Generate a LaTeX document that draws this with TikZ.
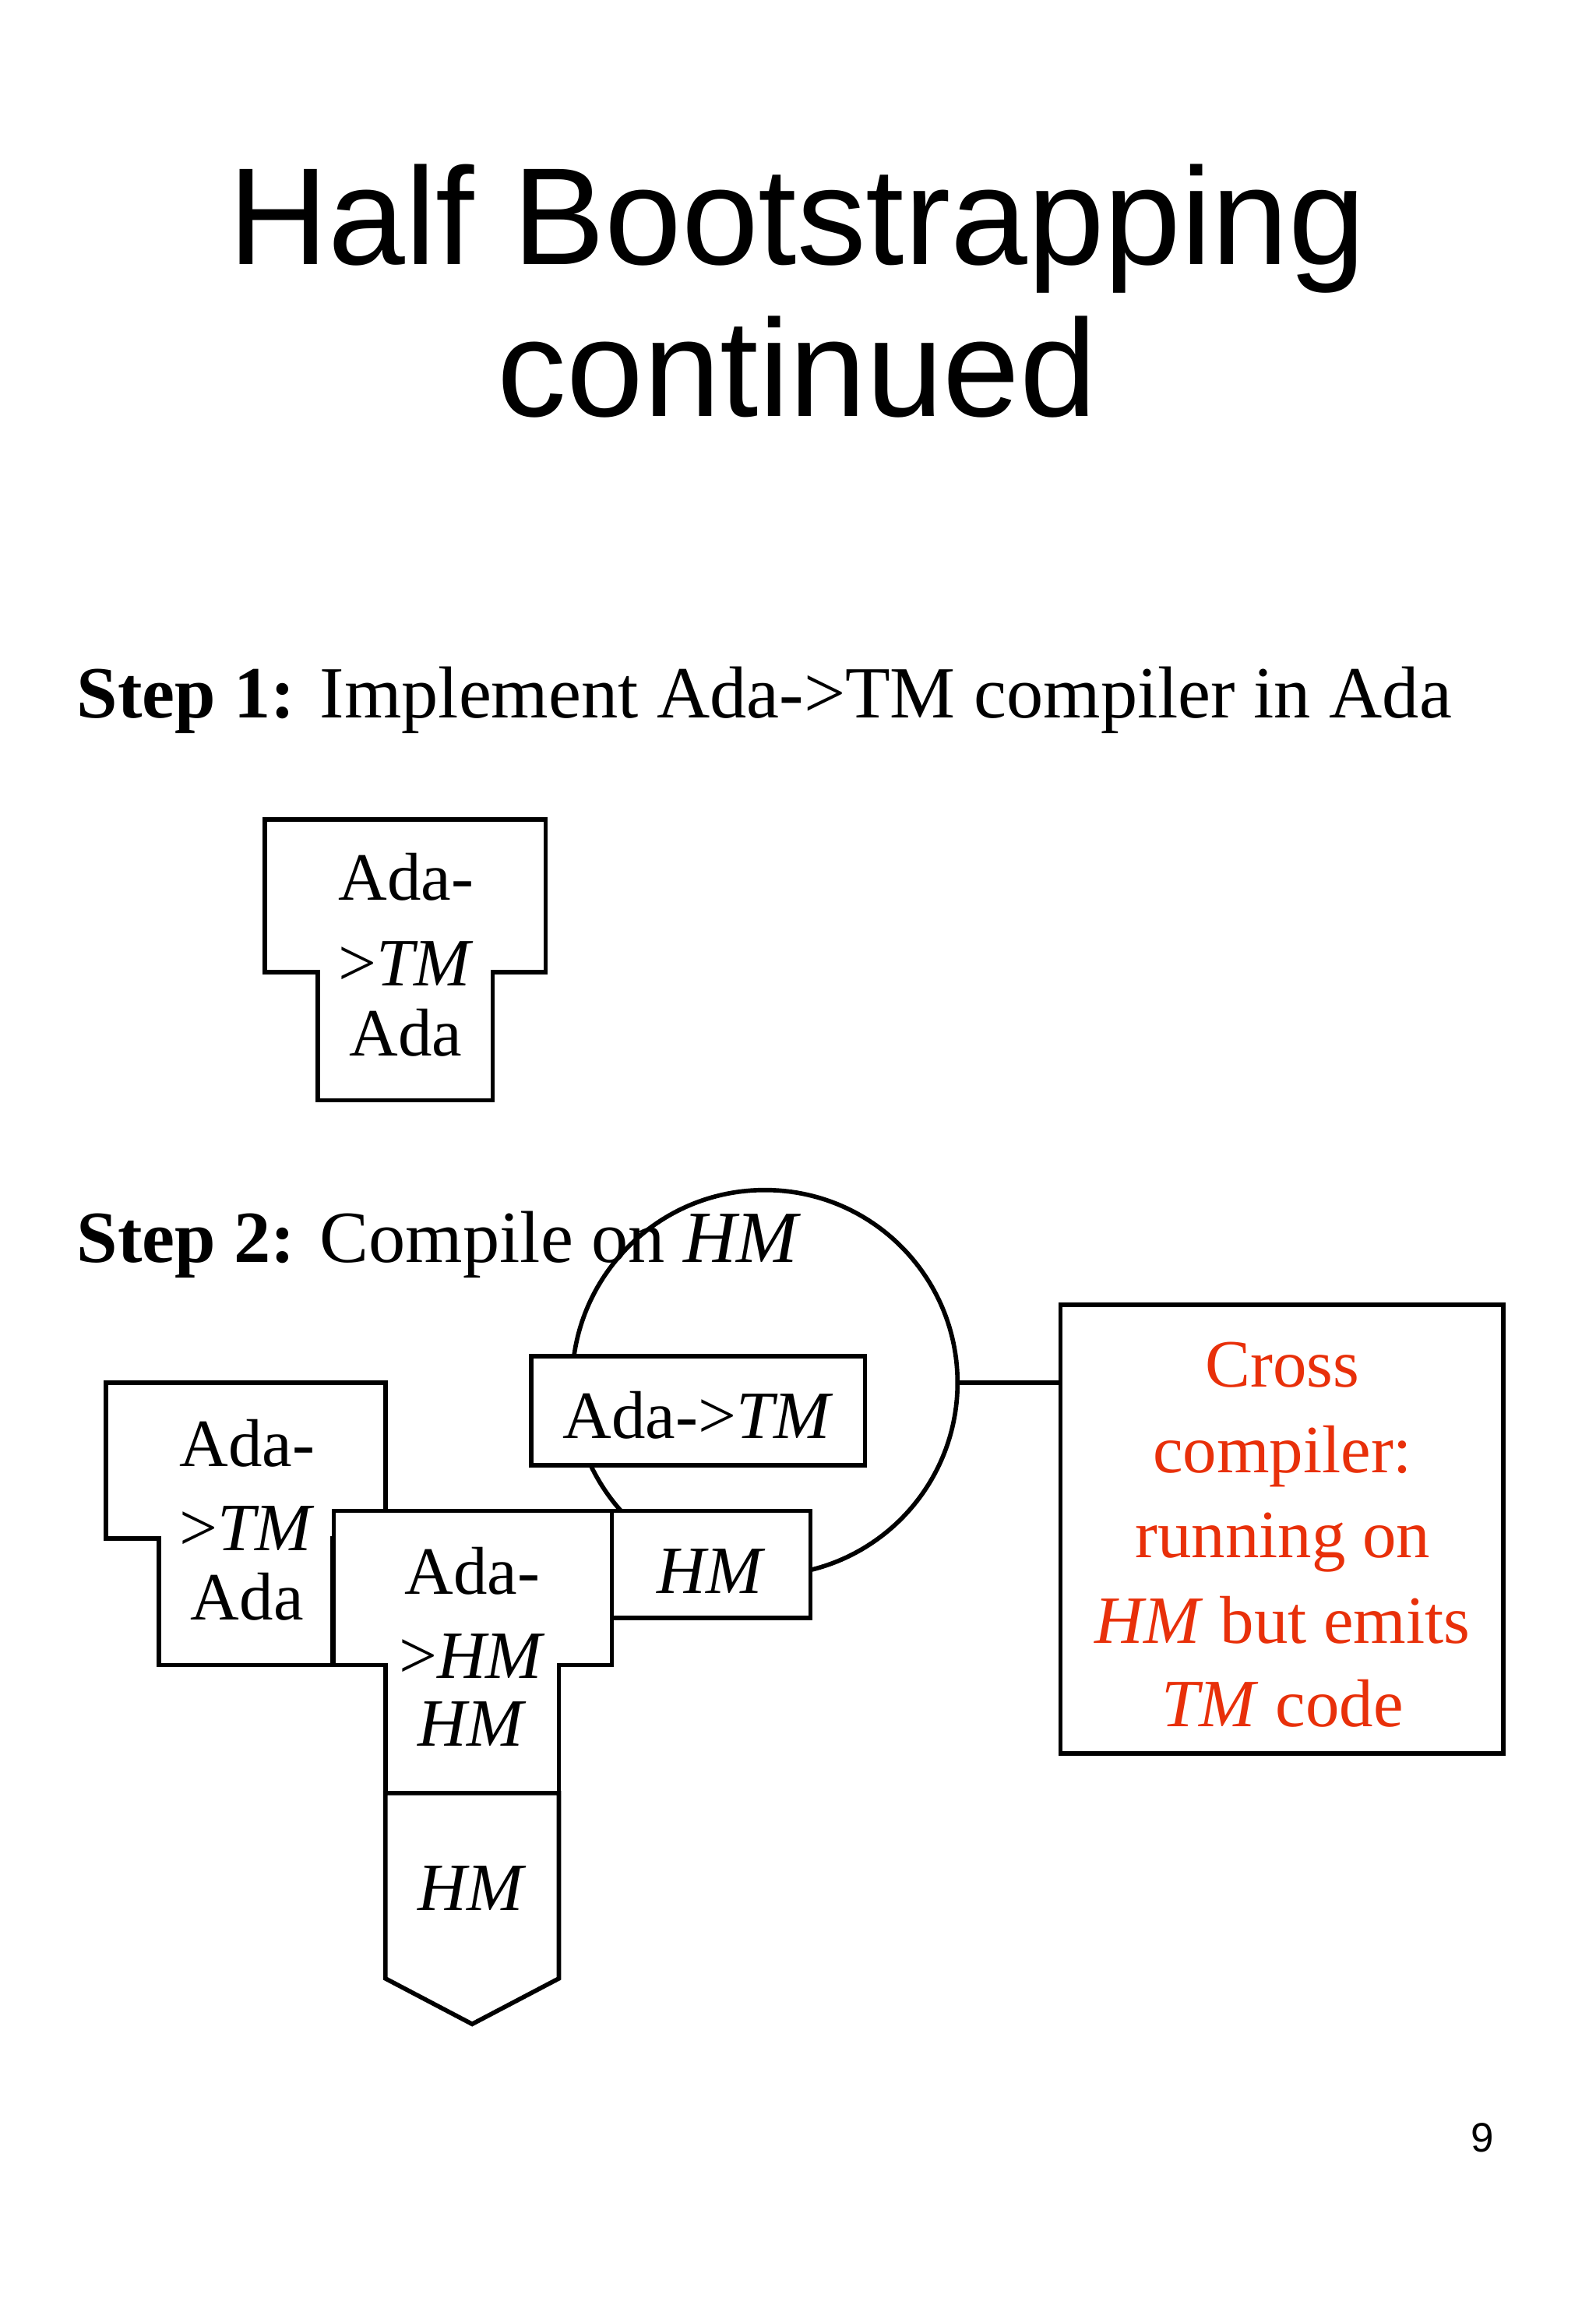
\documentclass[tikz,border=0pt]{standalone}
\usepackage{fontspec}
\setmainfont{Liberation Serif}
\newfontfamily\titlefont{Liberation Sans}
\begin{document}
\begin{tikzpicture}[x=1pt,y=-1pt,
  shp/.style={draw=black,line width=3pt,fill=white,line join=miter},
  lbl/.style={font=\fontsize{46}{50}\selectfont,inner sep=0pt,anchor=base},
  red/.style={lbl,text=crossred}]
\definecolor{crossred}{HTML}{E8300A}
\useasboundingbox (0,0) rectangle (1085,1567);
% title
\node[font=\titlefont\fontsize{94}{100}\selectfont,anchor=base] (t1) at (542,180) {Half Bootstrapping};
\node[font=\titlefont\fontsize{94}{100}\selectfont,anchor=base] (t2) at (542,283) {continued};
% step 1
\node[font=\fontsize{50}{54}\selectfont,anchor=base west,inner sep=0pt] (s1) at (52,488) {\textbf{Step 1:} Implement Ada->TM compiler in Ada};
\draw[shp] (180,557) -- (371,557) -- (371,661) -- (335,661) -- (335,748) -- (216,748) -- (216,661) -- (180,661) -- cycle;
\node[lbl] (a1) at (276,612) {Ada-};
\node[lbl] (a2) at (276,670) {>\textit{TM}};
\node[lbl] (a3) at (276,718) {Ada};
% step 2
\node[font=\fontsize{50}{54}\selectfont,anchor=base west,inner sep=0pt] (s2) at (52,858) {\textbf{Step 2:} Compile on \textit{HM}};
\node[circle,draw,line width=3pt,minimum size=262pt,inner sep=0pt] (circ) at (520,940) {};
\node[draw,line width=3pt,minimum width=301pt,minimum height=305pt,inner sep=0pt] (cross) at (871.5,1039.5) {};
\draw[line width=3pt] (circ.east) -- (cross.west |- circ.east);
\node[red] (c1) at (872,943) {Cross};
\node[red] (c2) at (872,1001) {compiler:};
\node[red] (c3) at (872,1059) {running on};
\node[red] (c4) at (872,1117) {\textit{HM} but emits};
\node[red] (c5) at (872,1174) {\textit{TM} code};
% boxes on circle
\node[shp,minimum width=227pt,minimum height=74pt,inner sep=0pt] (box1) at (474.5,959) {};
\node[lbl] (b1) at (474.5,978) {Ada->\textit{TM}};
\node[shp,minimum width=135pt,minimum height=73pt,inner sep=0pt] (box2) at (483.5,1063.5) {};
\node[lbl] (b2) at (483.5,1083) {\textit{HM}};
% T2
\draw[shp] (72,940) -- (262,940) -- (262,1046) -- (226,1046) -- (226,1132) -- (108,1132) -- (108,1046) -- (72,1046) -- cycle;
\node[lbl] (d1) at (168,997) {Ada-};
\node[lbl] (d2) at (168,1054) {>\textit{TM}};
\node[lbl] (d3) at (168,1101) {Ada};
% T3
\draw[shp] (227,1027) -- (416,1027) -- (416,1132) -- (380,1132) -- (380,1219) -- (262,1219) -- (262,1132) -- (227,1132) -- cycle;
\node[lbl] (e1) at (321,1084) {Ada-};
\node[lbl] (e2) at (321,1141) {>\textit{HM}};
\node[lbl] (e3) at (321,1187) {\textit{HM}};
% machine
\draw[shp] (262,1219) -- (380,1219) -- (380,1345) -- (321,1376) -- (262,1345) -- cycle;
\node[lbl] (m1) at (321,1299) {\textit{HM}};
% page number
\node[font=\titlefont\fontsize{28}{30}\selectfont,anchor=base] (pn) at (1008,1463) {9};
\end{tikzpicture}
\end{document}
